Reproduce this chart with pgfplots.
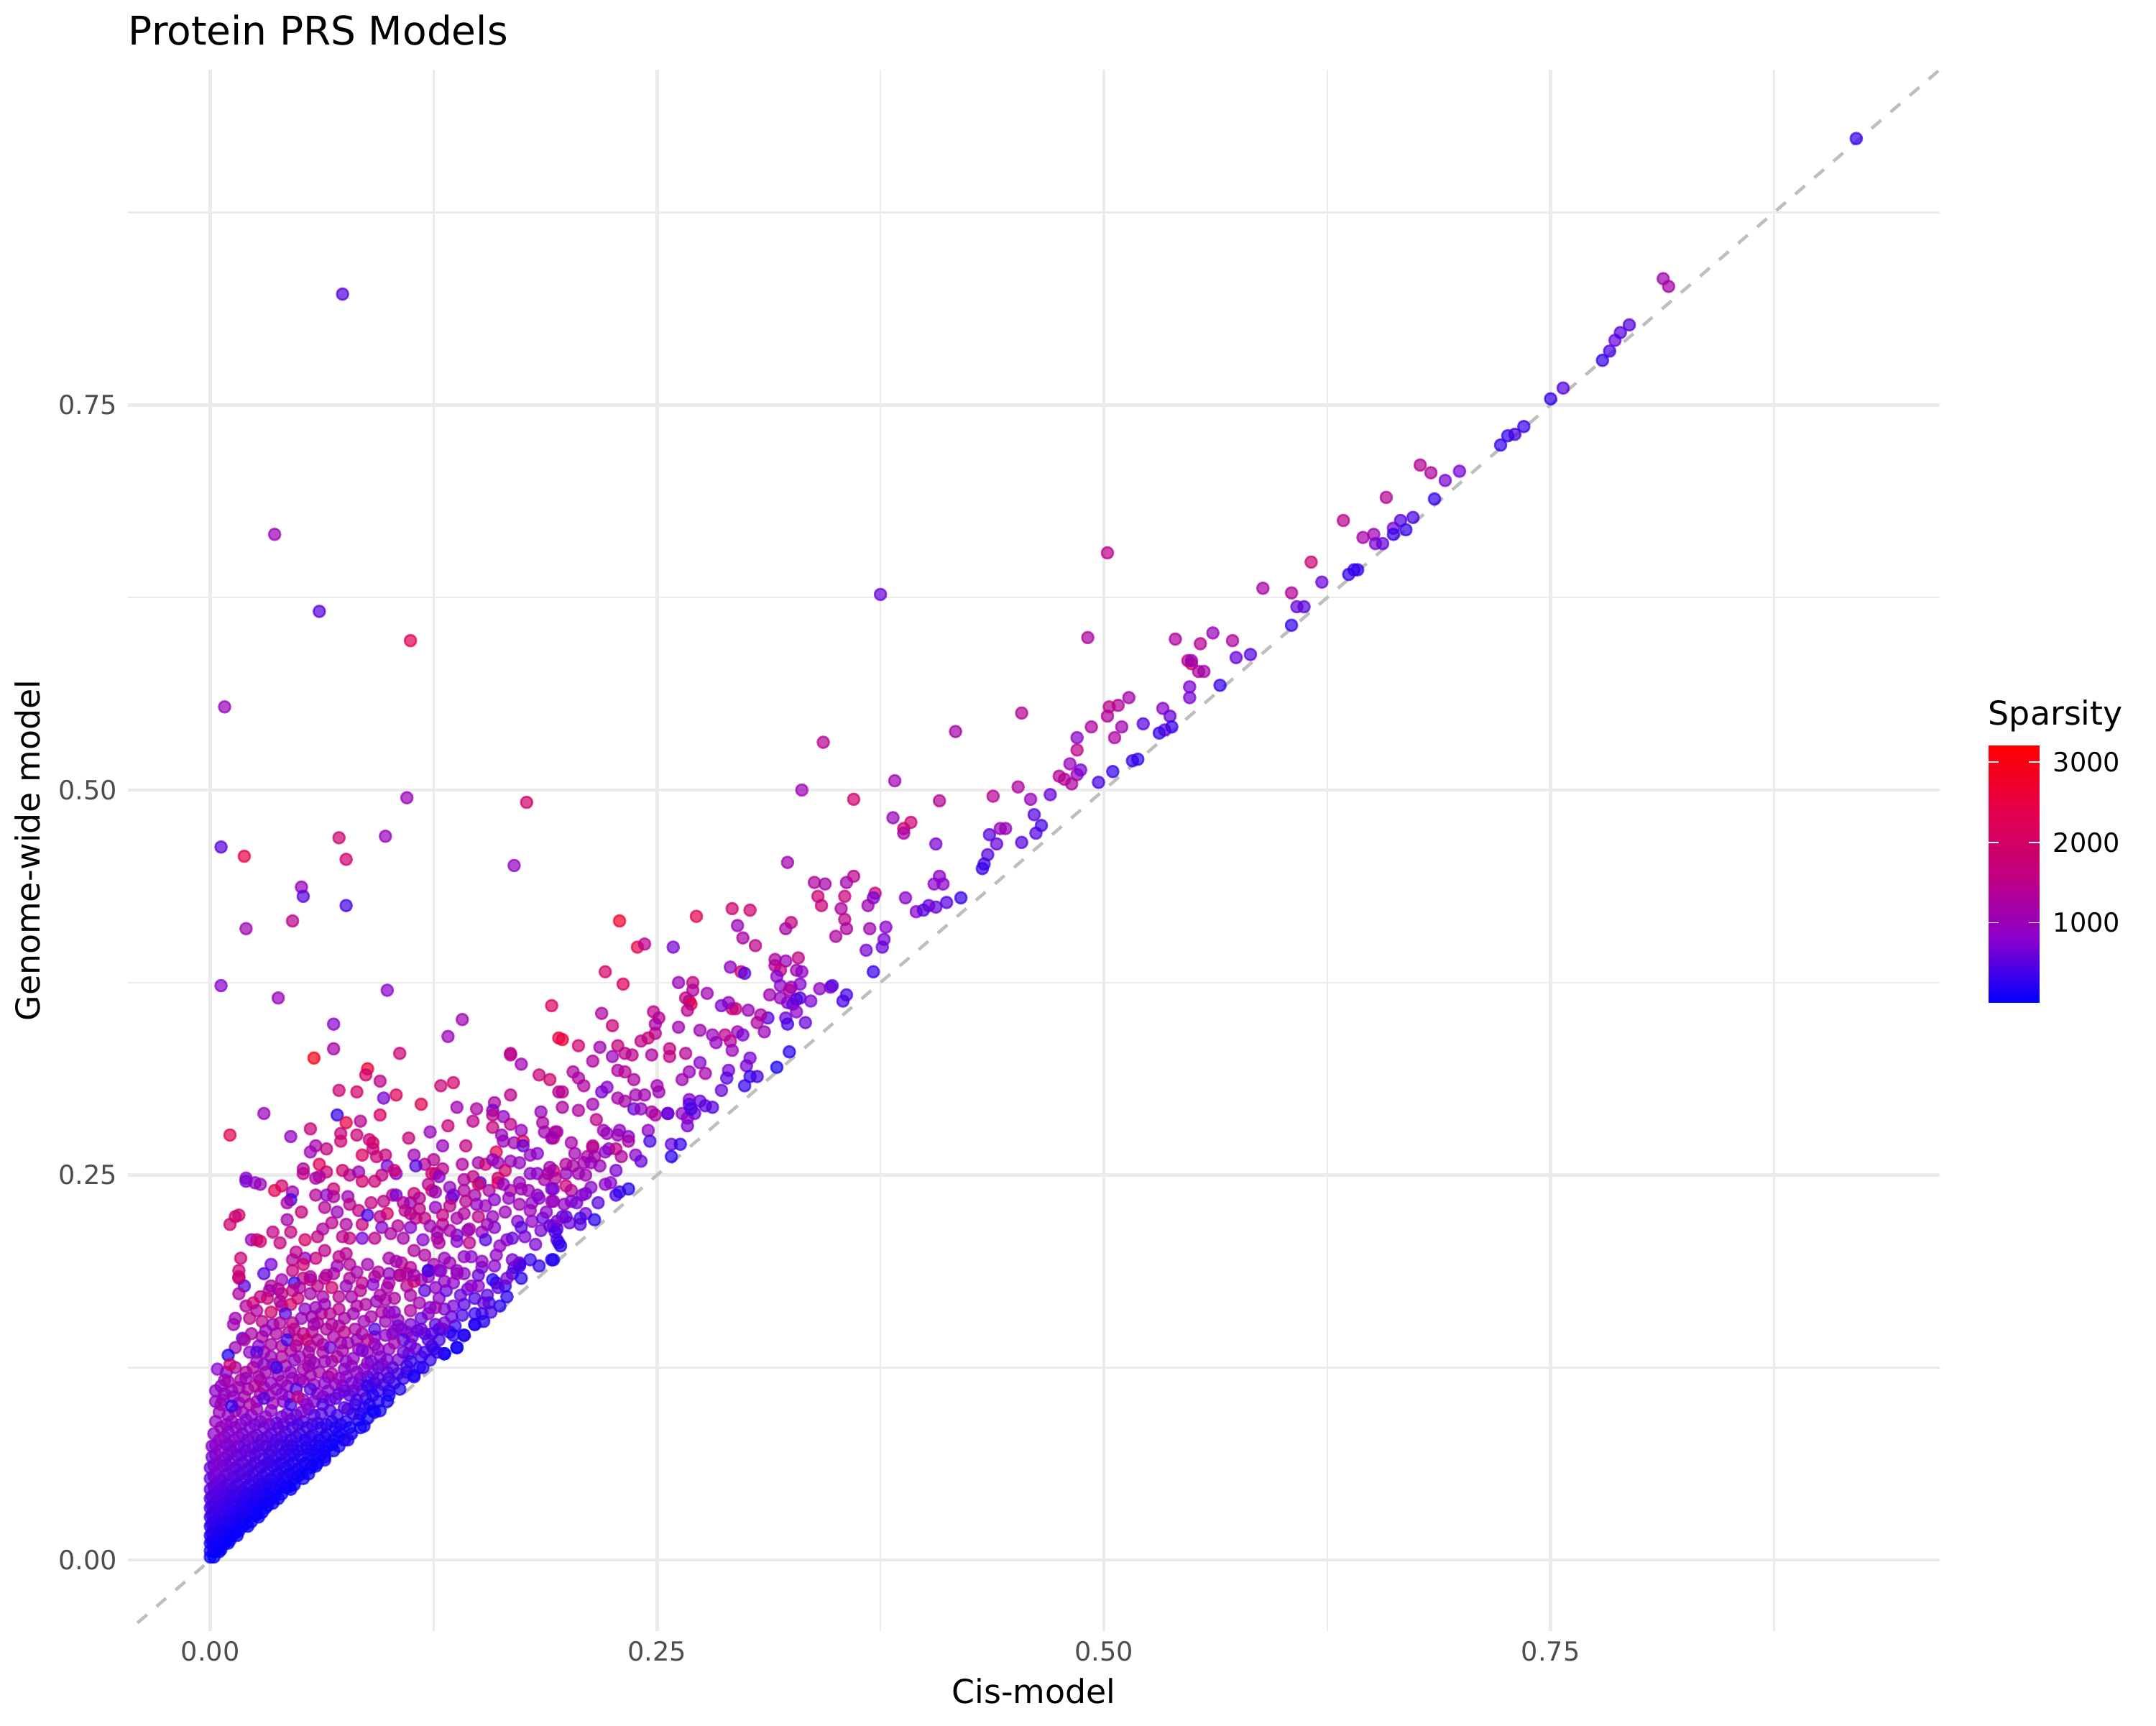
\documentclass[border=0pt]{standalone}
\usepackage{pgfplots}
\usepackage{fontspec}
\setmainfont{DejaVu Sans}
\pgfplotsset{compat=1.18}
\definecolor{gridc}{HTML}{EBEBEB}
\definecolor{tickc}{HTML}{4D4D4D}
\begin{document}
\begin{tikzpicture}
\path[use as bounding box] (0,0) rectangle (720pt,576pt);
\begin{axis}[
  at={(42.72pt,31.44pt)},anchor=south west,
  scale only axis,width=605.04pt,height=521.28pt,
  xmin=-0.0461,xmax=0.9677,ymin=-0.0461,ymax=0.9677,
  xtick={0,0.25,0.5,0.75},xticklabels={0.00,0.25,0.50,0.75},
  ytick={0,0.25,0.5,0.75},yticklabels={0.00,0.25,0.50,0.75},
  minor xtick={0.125,0.375,0.625,0.875},minor ytick={0.125,0.375,0.625,0.875},
  grid=both,
  major grid style={draw=gridc,line width=1.07pt},
  minor grid style={draw=gridc,line width=0.53pt},
  axis line style={draw=none},
  major tick length=0pt,minor tick length=0pt,
  tick style={draw=none},
  xticklabel style={font=\fontsize{8.8}{10}\selectfont,text=tickc},
  yticklabel style={font=\fontsize{8.8}{10}\selectfont,text=tickc},
  title={Protein PRS Models},
  title style={at={(axis description cs:0,1)},anchor=base west,inner sep=0pt,yshift=2.2pt,font=\fontsize{13.2}{15}\selectfont},
  xlabel={Cis-model},
  xlabel style={at={(axis description cs:0.5,0)},anchor=base,yshift=-24pt,font=\fontsize{11}{13}\selectfont},
  ylabel={Genome-wide model},
  ylabel style={at={(axis description cs:0,0.5)},anchor=base,yshift=29.3pt,font=\fontsize{11}{13}\selectfont},
  colormap={pr}{rgb255(0)=(0,0,255) rgb255(1)=(139,0,204) rgb255(2)=(194,0,127) rgb255(3)=(230,0,75) rgb255(4)=(255,0,0)},
  point meta min=0,point meta max=3215,
  colorbar,
  colorbar/width=17.28pt,
  colorbar style={
    at={(parent axis.north east)},anchor=north west,
    xshift=7.55pt,yshift=-225.4pt,
    height=86.16pt,
    ytick={1000,2000,3000},yticklabels={1000,2000,3000},
    ytick pos=both,yticklabel pos=right,
    tick align=inside,major tick length=3.5pt,
    tick style={draw=white,line width=0.35pt},
    axis line style={draw=white,line width=0.2pt},
    grid=none,
    yticklabel style={font=\fontsize{8.8}{10}\selectfont,text=black,xshift=1pt},
    title={Sparsity},
    title style={at={(0,1)},anchor=base west,inner sep=0pt,yshift=0.7pt,font=\fontsize{11}{13}\selectfont},
  },
]
\addplot[scatter,only marks,scatter src=explicit,mark=*,mark size=1.92pt,line width=0.64pt,
  mark options={opacity=0.7},
  scatter/use mapped color={draw=mapped color,fill=mapped color}]
  table[x index=0,y index=1,meta index=2,header=false] {
0.009 0.088 950
0.017 0.088 850
0.025 0.088 800
0.033 0.088 700
0.041 0.088 650
0.049 0.088 550
0.057 0.088 450
0.065 0.088 300
0.073 0.088 220
0.008 0.080 900
0.016 0.080 800
0.024 0.080 700
0.032 0.080 650
0.040 0.080 550
0.048 0.080 450
0.056 0.080 350
0.064 0.080 220
0.072 0.080 130
0.003 0.0745 850
0.011 0.0745 800
0.019 0.0745 700
0.027 0.0745 600
0.035 0.0745 500
0.043 0.0745 420
0.051 0.0745 320
0.059 0.0745 200
0.066 0.0745 120
0.003 0.0685 800
0.010 0.0685 720
0.017 0.0685 650
0.025 0.0685 550
0.033 0.0685 450
0.040 0.0685 360
0.047 0.0685 260
0.055 0.0685 170
0.062 0.0685 110
0.002 0.0615 750
0.009 0.0615 680
0.016 0.0615 600
0.023 0.0615 500
0.030 0.0615 420
0.037 0.0615 330
0.044 0.0615 230
0.051 0.0615 150
0.057 0.0615 80
0.002 0.0545 680
0.008 0.0545 600
0.015 0.0545 520
0.022 0.0545 440
0.029 0.0545 350
0.036 0.0545 260
0.043 0.0545 180
0.049 0.0545 100
0.002 0.0475 600
0.008 0.0475 520
0.014 0.0475 450
0.020 0.0475 380
0.027 0.0475 300
0.033 0.0475 210
0.039 0.0475 140
0.044 0.0475 70
0.001 0.0415 530
0.007 0.0415 460
0.013 0.0415 390
0.019 0.0415 320
0.025 0.0415 240
0.031 0.0415 160
0.036 0.0415 90
0.001 0.0355 470
0.007 0.0355 390
0.012 0.0355 330
0.018 0.0355 260
0.023 0.0355 190
0.028 0.0355 120
0.032 0.0355 60
0.001 0.0295 400
0.006 0.0295 320
0.012 0.0295 260
0.017 0.0295 190
0.022 0.0295 120
0.026 0.0295 70
0.001 0.0235 320
0.006 0.0235 250
0.010 0.0235 190
0.015 0.0235 130
0.020 0.0235 70
0.001 0.0175 250
0.005 0.0175 190
0.010 0.0175 130
0.014 0.0175 70
0.001 0.0125 190
0.005 0.0125 130
0.009 0.0125 60
0.002 0.0055 80
0.005 0.0055 40
0.010 0.094 950
0.018 0.096 950
0.023 0.094 850
0.034 0.097 800
0.040 0.093 700
0.048 0.094 600
0.055 0.098 650
0.062 0.095 450
0.071 0.094 350
0.077 0.098 350
0.084 0.095 180
0.089 0.101 200
0.006 0.101 1000
0.016 0.102 1000
0.026 0.103 1000
0.033 0.107 1000
0.041 0.103 800
0.052 0.104 800
0.058 0.103 700
0.063 0.106 650
0.070 0.105 500
0.075 0.110 600
0.081 0.101 300
0.087 0.105 250
0.012 0.110 1000
0.021 0.111 1150
0.030 0.112 1100
0.043 0.113 900
0.050 0.117 1100
0.058 0.114 900
0.066 0.110 750
0.074 0.113 700
0.083 0.114 600
0.090 0.112 350
0.006 0.113 950
0.017 0.117 1200
0.028 0.117 1200
0.038 0.120 1100
0.046 0.118 1000
0.056 0.120 1100
0.066 0.119 1000
0.076 0.119 800
0.084 0.118 650
0.091 0.121 550
0.099 0.122 500
0.103 0.115 300
0.105 0.121 450
0.110 0.122 250
0.097 0.114 350
0.055 0.126 1200
0.068 0.129 1100
0.079 0.126 1000
0.088 0.128 900
0.096 0.127 700
0.105 0.130 700
0.111 0.134 500
0.100 0.137 900
0.094 0.137 900
0.083 0.137 1000
0.073 0.141 1200
0.063 0.140 1200
0.056 0.139 1300
0.040 0.139 1300
0.029 0.145 1300
0.037 0.147 1300
0.047 0.150 1400
0.057 0.148 1400
0.065 0.150 1300
0.072 0.152 1300
0.085 0.147 1100
0.092 0.145 900
0.102 0.147 900
0.107 0.150 800
0.113 0.145 600
0.120 0.147 400
0.124 0.139 300
0.128 0.150 400
0.134 0.148 300
0.137 0.152 300
0.003 0.090 900
0.012 0.090 850
0.020 0.091 750
0.028 0.090 650
0.037 0.089 600
0.045 0.091 500
0.052 0.090 450
0.060 0.089 350
0.068 0.090 250
0.076 0.090 200
0.083 0.091 120
0.088 0.092 100
0.002 0.082 800
0.010 0.083 700
0.018 0.082 650
0.026 0.081 600
0.034 0.082 500
0.042 0.083 420
0.050 0.082 350
0.057 0.081 280
0.065 0.082 220
0.072 0.083 130
0.079 0.082 100
0.001 0.074 750
0.009 0.075 600
0.016 0.074 550
0.024 0.073 500
0.031 0.074 420
0.039 0.075 350
0.046 0.074 280
0.054 0.073 200
0.061 0.074 130
0.068 0.075 100
0.072 0.074 100
0.001 0.067 650
0.008 0.066 550
0.015 0.068 500
0.022 0.067 430
0.030 0.066 350
0.037 0.067 280
0.044 0.068 220
0.051 0.067 160
0.058 0.066 100
0.064 0.067 100
0.000 0.060 600
0.007 0.061 500
0.014 0.060 450
0.021 0.059 380
0.028 0.060 300
0.035 0.061 240
0.042 0.060 180
0.049 0.059 120
0.056 0.060 100
0.059 0.061 80
0.000 0.053 550
0.006 0.052 430
0.013 0.054 380
0.020 0.053 320
0.027 0.052 250
0.034 0.053 190
0.041 0.054 130
0.047 0.053 90
0.052 0.053 70
0.000 0.046 480
0.006 0.047 380
0.012 0.046 330
0.018 0.045 270
0.025 0.046 210
0.031 0.047 150
0.037 0.046 100
0.042 0.047 80
0.045 0.046 60
0.000 0.040 420
0.005 0.041 330
0.011 0.040 280
0.017 0.039 220
0.023 0.040 160
0.029 0.041 110
0.034 0.040 70
0.038 0.040 60
0.000 0.034 370
0.005 0.035 280
0.010 0.034 230
0.016 0.033 170
0.021 0.034 120
0.026 0.035 80
0.031 0.034 50
0.000 0.028 300
0.005 0.029 230
0.010 0.028 180
0.015 0.027 130
0.020 0.028 80
0.025 0.029 50
0.027 0.028 40
0.000 0.022 250
0.004 0.023 170
0.009 0.022 130
0.013 0.021 90
0.018 0.022 50
0.021 0.022 40
0.000 0.016 180
0.004 0.017 120
0.008 0.016 80
0.012 0.016 40
0.015 0.016 30
0.000 0.011 120
0.004 0.011 70
0.008 0.011 30
0.010 0.011 20
0.000 0.006 80
0.003 0.006 40
0.006 0.007 10
0.000 0.002 30
0.002 0.002 10
0.006 0.086 950
0.014 0.086 800
0.022 0.086 700
0.030 0.086 650
0.038 0.086 550
0.046 0.086 450
0.054 0.086 350
0.062 0.086 250
0.070 0.086 180
0.078 0.086 120
0.084 0.086 80
0.005 0.078 900
0.013 0.078 800
0.021 0.078 650
0.029 0.078 550
0.037 0.078 450
0.045 0.078 350
0.053 0.078 250
0.061 0.078 180
0.069 0.078 120
0.075 0.078 80
0.005 0.071 800
0.012 0.071 700
0.020 0.071 600
0.027 0.071 500
0.034 0.071 420
0.042 0.071 330
0.049 0.071 230
0.057 0.071 150
0.064 0.071 100
0.069 0.071 70
0.004 0.063 750
0.011 0.063 650
0.018 0.063 550
0.025 0.063 450
0.032 0.063 370
0.039 0.063 280
0.046 0.063 200
0.053 0.063 130
0.060 0.063 70
0.003 0.056 700
0.010 0.056 600
0.017 0.056 500
0.024 0.056 420
0.031 0.056 320
0.038 0.056 240
0.045 0.056 160
0.051 0.056 100
0.055 0.056 60
0.003 0.049 600
0.009 0.049 500
0.015 0.049 420
0.022 0.049 340
0.028 0.049 270
0.034 0.049 190
0.040 0.049 130
0.047 0.049 60
0.003 0.043 520
0.008 0.043 430
0.014 0.043 360
0.020 0.043 290
0.026 0.043 220
0.032 0.043 150
0.040 0.043 70
0.002 0.037 450
0.008 0.037 370
0.013 0.037 300
0.019 0.037 240
0.024 0.037 170
0.030 0.037 110
0.035 0.037 50
0.002 0.031 380
0.007 0.031 310
0.013 0.031 240
0.018 0.031 180
0.024 0.031 120
0.029 0.031 50
0.002 0.025 300
0.007 0.025 230
0.012 0.025 170
0.017 0.025 120
0.023 0.025 40
0.002 0.019 230
0.006 0.019 170
0.011 0.019 120
0.016 0.019 60
0.002 0.013 170
0.006 0.013 110
0.011 0.013 40
0.002 0.008 100
0.005 0.008 60
0.014 0.097 1000
0.019 0.106 1100
0.026 0.098 900
0.031 0.093 800
0.043 0.095 700
0.051 0.096 700
0.058 0.094 500
0.067 0.097 400
0.080 0.095 300
0.086 0.099 200
0.016 0.112 1100
0.028 0.108 1200
0.037 0.111 1000
0.044 0.106 900
0.052 0.116 1000
0.060 0.108 800
0.067 0.104 600
0.070 0.114 900
0.078 0.107 500
0.085 0.110 500
0.013 0.106 900
0.024 0.125 1300
0.035 0.127 1200
0.042 0.126 1100
0.052 0.124 1100
0.061 0.122 1100
0.072 0.118 900
0.080 0.110 600
0.088 0.119 500
0.092 0.115 400
0.014 0.125 1200
0.009 0.122 900
0.003 0.110 800
0.003 0.103 900
0.030 0.135 1200
0.045 0.136 1300
0.052 0.147 1500
0.063 0.135 1300
0.069 0.145 1200
0.081 0.150 1200
0.088 0.135 1000
0.092 0.140 800
0.095 0.132 800
0.044 0.148 1300
0.029 0.155 1500
0.040 0.165 1600
0.049 0.170 1700
0.062 0.160 1300
0.072 0.163 1400
0.082 0.165 1300
0.090 0.158 1200
0.096 0.161 1300
0.095 0.172 1300
0.105 0.156 1000
0.110 0.148 800
0.118 0.150 700
0.124 0.147 500
0.112 0.140 700
0.118 0.132 300
0.125 0.137 300
0.130 0.150 500
0.135 0.158 600
0.122 0.160 900
0.128 0.170 800
0.136 0.165 700
0.144 0.176 700
0.148 0.170 400
0.152 0.160 300
0.155 0.172 500
0.160 0.180 500
0.165 0.178 300
0.170 0.190 500
0.110 0.178 1400
0.118 0.182 1000
0.125 0.192 1200
0.134 0.193 1100
0.142 0.186 800
0.152 0.190 700
0.160 0.198 900
0.107 0.193 1500
0.112 0.190 1400
0.100 0.180 1300
0.092 0.184 1400
0.085 0.180 1500
0.078 0.183 1400
0.069 0.186 1300
0.060 0.178 1500
0.052 0.183 1700
0.040 0.173 1500
0.028 0.171 1500
0.105 0.217 1400
0.115 0.222 1500
0.130 0.218 1400
0.142 0.225 1300
0.155 0.218 1100
0.165 0.226 1000
0.172 0.220 800
0.180 0.220 900
0.186 0.222 600
0.148 0.237 1200
0.156 0.240 1300
0.168 0.240 1300
0.178 0.240 1000
0.180 0.232 900
0.085 0.218 1700
0.068 0.219 1500
0.060 0.210 1600
0.045 0.213 1600
0.120 0.222 1600
0.135 0.235 1100
0.064 0.065 100
0.077 0.078 200
0.086 0.087 100
0.100 0.107 100
0.114 0.120 200
0.119 0.125 150
0.131 0.134 100
0.138 0.138 150
0.142 0.146 100
0.148 0.153 100
0.094 0.125 600
0.102 0.125 500
0.110 0.126 400
0.117 0.125 250
0.094 0.118 500
0.100 0.118 400
0.108 0.118 300
0.114 0.119 150
0.094 0.110 400
0.100 0.110 250
0.106 0.111 150
0.094 0.103 200
0.099 0.103 120
0.092 0.096 100
0.095 0.097 100
0.016 0.183 1800
0.019 0.178 500
0.016 0.173 1300
0.040 0.182 1100
0.047 0.180 300
0.046 0.175 1600
0.034 0.178 1400
0.038 0.176 1400
0.033 0.175 1100
0.032 0.170 1700
0.039 0.168 1300
0.045 0.166 2000
0.056 0.182 1700
0.050 0.177 1300
0.056 0.173 1200
0.063 0.171 1200
0.064 0.183 1500
0.068 0.177 1900
0.076 0.178 1000
0.072 0.171 1400
0.079 0.171 1200
0.084 0.175 1400
0.091 0.179 800
0.087 0.166 1300
0.093 0.168 1000
0.020 0.165 1300
0.024 0.167 1800
0.026 0.162 1300
0.022 0.157 1500
0.014 0.157 1100
0.013 0.153 1100
0.034 0.161 1900
0.042 0.160 500
0.053 0.163 900
0.057 0.158 1100
0.064 0.166 1000
0.059 0.164 1000
0.035 0.153 1000
0.039 0.154 1300
0.046 0.154 1500
0.051 0.157 1000
0.060 0.154 1300
0.058 0.153 1100
0.067 0.160 1400
0.075 0.157 1200
0.068 0.153 1300
0.075 0.148 1500
0.080 0.160 1100
0.086 0.155 1100
0.092 0.150 500
0.031 0.149 1000
0.018 0.144 500
0.023 0.147 1200
0.019 0.143 1300
0.014 0.138 1100
0.022 0.135 900
0.027 0.139 800
0.026 0.135 500
0.010 0.133 150
0.011 0.127 1800
0.034 0.140 1200
0.043 0.143 400
0.049 0.143 1500
0.054 0.143 1700
0.060 0.143 1300
0.048 0.139 1300
0.040 0.132 1300
0.034 0.132 1000
0.026 0.129 1000
0.030 0.127 800
0.037 0.125 300
0.045 0.122 900
0.047 0.130 800
0.055 0.135 1100
0.056 0.130 1200
0.050 0.132 1100
0.058 0.128 1000
0.067 0.138 700
0.064 0.129 1000
0.071 0.132 1300
0.077 0.141 1100
0.074 0.136 1100
0.082 0.143 1000
0.088 0.143 1300
0.085 0.136 700
0.080 0.131 900
0.076 0.129 900
0.090 0.129 700
0.086 0.124 800
0.004 0.124 800
0.008 0.117 1000
0.010 0.116 1100
0.020 0.122 1300
0.027 0.119 1100
0.020 0.118 1000
0.025 0.113 1300
0.008 0.108 900
0.007 0.104 1000
0.012 0.100 300
0.005 0.096 1000
0.022 0.101 1200
0.031 0.122 1100
0.034 0.115 900
0.040 0.116 1000
0.040 0.108 800
0.035 0.102 1000
0.030 0.105 500
0.045 0.101 400
0.048 0.111 500
0.056 0.111 500
0.049 0.106 1500
0.054 0.101 800
0.063 0.101 500
0.068 0.121 1200
0.075 0.124 800
0.064 0.115 800
0.072 0.108 600
0.082 0.122 800
0.079 0.115 700
0.082 0.104 400
0.088 0.113 300
0.091 0.107 200
0.091 0.097 100
0.075 0.099 500
0.127 0.209 1200
0.145 0.215 1400
0.145 0.206 1500
0.138 0.211 700
0.173 0.193 700
0.173 0.191 400
0.169 0.186 400
0.174 0.183 250
0.166 0.183 700
0.158 0.182 200
0.161 0.177 500
0.150 0.178 900
0.146 0.178 800
0.150 0.185 600
0.166 0.171 200
0.162 0.165 200
0.156 0.167 400
0.153 0.167 600
0.157 0.161 400
0.148 0.160 300
0.141 0.159 400
0.148 0.153 200
0.153 0.155 200
0.142 0.146 200
0.136 0.146 200
0.138 0.138 100
0.131 0.134 100
0.140 0.172 600
0.142 0.166 500
0.131 0.163 700
0.126 0.164 1200
0.123 0.164 800
0.112 0.162 1300
0.103 0.161 800
0.100 0.161 900
0.103 0.170 1300
0.098 0.169 1200
0.117 0.167 1100
0.112 0.172 1200
0.120 0.175 500
0.126 0.177 900
0.132 0.175 600
0.136 0.180 800
0.131 0.181 900
0.114 0.181 1800
0.122 0.188 500
0.122 0.184 900
0.129 0.188 800
0.138 0.186 1100
0.106 0.185 1700
0.110 0.186 1400
0.100 0.186 900
0.099 0.177 1200
0.112 0.153 700
0.118 0.157 600
0.126 0.153 500
0.131 0.154 700
0.105 0.152 700
0.098 0.155 1000
0.098 0.146 800
0.103 0.149 800
0.108 0.143 500
0.116 0.149 600
0.122 0.143 500
0.128 0.143 400
0.115 0.137 600
0.103 0.141 1100
0.120 0.135 400
0.127 0.135 300
0.108 0.135 600
0.112 0.129 300
0.123 0.130 300
0.099 0.130 700
0.220 0.279 1100
0.222 0.277 1000
0.216 0.286 1500
0.229 0.279 900
0.228 0.276 1000
0.234 0.275 800
0.234 0.272 1200
0.245 0.279 900
0.246 0.272 400
0.193 0.278 1600
0.192 0.274 1900
0.202 0.271 1200
0.214 0.269 1400
0.214 0.268 1500
0.204 0.264 1100
0.211 0.262 1300
0.215 0.262 1200
0.221 0.265 900
0.223 0.267 800
0.227 0.267 1500
0.230 0.262 1300
0.238 0.263 800
0.241 0.259 600
0.258 0.270 600
0.263 0.270 300
0.258 0.262 200
0.267 0.282 700
0.249 0.289 1300
0.247 0.291 1200
0.256 0.290 700
0.264 0.290 900
0.271 0.290 600
0.267 0.287 800
0.227 0.253 700
0.199 0.257 1400
0.203 0.256 1300
0.209 0.258 1100
0.213 0.258 1000
0.218 0.256 1000
0.206 0.251 1100
0.210 0.250 1100
0.199 0.251 1000
0.192 0.253 1700
0.193 0.248 1400
0.199 0.243 1700
0.202 0.240 1400
0.192 0.241 900
0.192 0.233 1000
0.213 0.242 800
0.210 0.238 700
0.208 0.237 800
0.221 0.244 900
0.224 0.245 800
0.227 0.237 400
0.229 0.239 300
0.234 0.241 200
0.217 0.232 500
0.198 0.231 900
0.202 0.233 800
0.205 0.232 700
0.210 0.225 700
0.197 0.223 600
0.199 0.223 600
0.194 0.220 700
0.207 0.222 400
0.201 0.219 600
0.207 0.218 500
0.215 0.221 200
0.194 0.215 500
0.192 0.217 800
0.194 0.208 500
0.196 0.204 200
0.192 0.195 150
0.331 0.500 1100
0.360 0.494 1900
0.383 0.506 1100
0.382 0.482 1000
0.392 0.479 1800
0.388 0.475 1900
0.388 0.472 1200
0.323 0.453 1100
0.338 0.440 1300
0.344 0.439 1200
0.356 0.440 1100
0.360 0.444 1500
0.340 0.431 1800
0.342 0.425 1700
0.355 0.431 1700
0.353 0.423 1300
0.355 0.416 1500
0.356 0.410 1300
0.350 0.405 1300
0.372 0.433 1800
0.371 0.430 700
0.368 0.425 1100
0.389 0.430 800
0.395 0.421 800
0.369 0.410 1100
0.378 0.411 800
0.377 0.403 700
0.376 0.398 600
0.367 0.396 700
0.371 0.382 300
0.325 0.414 1600
0.322 0.410 1200
0.292 0.423 1900
0.302 0.422 1900
0.295 0.412 1000
0.298 0.404 1200
0.305 0.399 1500
0.229 0.415 2800
0.272 0.418 2400
0.239 0.398 2500
0.243 0.400 1500
0.259 0.398 700
0.221 0.382 2000
0.231 0.374 2100
0.291 0.385 900
0.297 0.382 1800
0.299 0.381 500
0.316 0.390 1300
0.316 0.386 1300
0.322 0.389 1000
0.329 0.391 1600
0.319 0.383 1600
0.317 0.379 800
0.328 0.383 1100
0.331 0.382 900
0.319 0.373 800
0.325 0.372 1000
0.330 0.374 800
0.313 0.367 1100
0.319 0.365 1000
0.324 0.370 1300
0.323 0.362 800
0.328 0.364 400
0.330 0.365 500
0.326 0.361 600
0.328 0.356 800
0.336 0.363 700
0.341 0.371 900
0.347 0.372 800
0.348 0.373 500
0.356 0.367 400
0.354 0.363 400
0.322 0.352 600
0.323 0.348 400
0.333 0.349 600
0.324 0.330 200
0.317 0.320 100
0.312 0.352 500
0.308 0.354 1300
0.306 0.349 1300
0.310 0.343 1000
0.301 0.357 1000
0.294 0.358 1700
0.292 0.358 1700
0.290 0.362 1000
0.286 0.360 700
0.262 0.375 1000
0.270 0.375 1600
0.270 0.370 1300
0.266 0.365 1600
0.268 0.363 1400
0.269 0.361 2300
0.267 0.357 1500
0.278 0.368 1100
0.219 0.355 1300
0.225 0.347 1800
0.248 0.356 1500
0.251 0.352 1400
0.249 0.348 1200
0.249 0.342 1400
0.245 0.339 1800
0.241 0.337 1500
0.197 0.338 2700
0.206 0.334 1900
0.218 0.333 1100
0.228 0.334 1700
0.225 0.327 1000
0.232 0.329 1500
0.236 0.328 1500
0.247 0.328 1300
0.257 0.332 1600
0.257 0.327 1600
0.266 0.329 1400
0.214 0.324 1300
0.262 0.346 1100
0.274 0.344 1100
0.281 0.341 1000
0.288 0.341 1500
0.291 0.337 1400
0.283 0.336 900
0.295 0.343 1100
0.298 0.341 700
0.292 0.331 1000
0.274 0.323 800
0.302 0.326 700
0.300 0.321 700
0.290 0.318 700
0.302 0.314 300
0.306 0.314 400
0.299 0.308 300
0.289 0.313 500
0.286 0.305 600
0.268 0.317 1000
0.264 0.312 1100
0.277 0.316 1200
0.203 0.317 1300
0.206 0.313 1300
0.209 0.308 1300
0.197 0.304 1500
0.228 0.318 1300
0.232 0.317 1400
0.237 0.312 1300
0.250 0.308 1100
0.251 0.304 1100
0.222 0.307 800
0.219 0.304 700
0.228 0.300 1200
0.232 0.298 1200
0.238 0.302 1100
0.243 0.302 1100
0.214 0.296 1100
0.197 0.294 1300
0.206 0.292 1300
0.237 0.293 600
0.241 0.293 900
0.256 0.290 600
0.268 0.299 800
0.268 0.296 500
0.274 0.298 600
0.277 0.295 500
0.281 0.294 500
0.269 0.293 400
0.061 0.616 500
0.112 0.597 2300
0.008 0.554 1000
0.110 0.495 1000
0.177 0.492 1900
0.006 0.463 500
0.019 0.457 2500
0.072 0.469 1800
0.098 0.470 1000
0.076 0.455 1900
0.170 0.451 900
0.051 0.437 1000
0.052 0.431 500
0.076 0.425 400
0.046 0.415 1500
0.074 0.822 500
0.036 0.666 1000
0.020 0.410 1100
0.006 0.373 800
0.038 0.365 1000
0.099 0.370 800
0.069 0.348 800
0.069 0.332 1200
0.058 0.326 3000
0.106 0.329 1800
0.141 0.351 1100
0.133 0.340 1000
0.191 0.360 2100
0.195 0.339 2500
0.088 0.319 2700
0.087 0.315 1900
0.095 0.311 1500
0.072 0.305 1800
0.082 0.304 2000
0.104 0.302 2200
0.097 0.300 700
0.118 0.296 2300
0.129 0.308 1800
0.136 0.310 2000
0.168 0.329 1500
0.168 0.328 1500
0.174 0.322 1100
0.184 0.315 1700
0.190 0.312 1900
0.195 0.304 1400
0.168 0.302 1500
0.138 0.294 1100
0.149 0.293 1300
0.159 0.297 1300
0.158 0.292 700
0.164 0.288 900
0.158 0.289 1500
0.147 0.285 1500
0.133 0.282 1700
0.158 0.281 1700
0.168 0.283 1500
0.185 0.291 1000
0.186 0.284 1300
0.187 0.278 1100
0.194 0.278 1200
0.191 0.274 1000
0.174 0.279 1000
0.163 0.276 1000
0.164 0.272 1000
0.170 0.271 1100
0.175 0.272 2000
0.175 0.269 600
0.160 0.265 2300
0.123 0.278 1000
0.111 0.274 1700
0.130 0.269 1000
0.143 0.269 1600
0.030 0.290 1000
0.071 0.289 300
0.076 0.284 2500
0.084 0.285 1400
0.095 0.289 2100
0.011 0.276 2300
0.045 0.275 900
0.056 0.280 1700
0.073 0.277 1700
0.073 0.272 1900
0.082 0.276 1700
0.089 0.273 1600
0.091 0.271 2000
0.091 0.267 1800
0.059 0.269 1200
0.056 0.265 1100
0.065 0.267 1600
0.085 0.263 2100
0.093 0.262 1700
0.098 0.263 1700
0.061 0.257 2300
0.114 0.263 1100
0.125 0.260 1400
0.120 0.257 1400
0.130 0.254 1500
0.115 0.256 500
0.141 0.257 1300
0.150 0.258 1100
0.154 0.257 1800
0.158 0.260 1000
0.161 0.258 1000
0.168 0.259 1000
0.173 0.258 900
0.179 0.263 1000
0.183 0.264 800
0.190 0.255 1100
0.183 0.251 800
0.189 0.251 1200
0.179 0.251 800
0.052 0.254 1300
0.052 0.251 1500
0.099 0.256 700
0.104 0.251 900
0.103 0.253 1800
0.065 0.252 1800
0.074 0.253 1900
0.078 0.250 1500
0.083 0.252 1000
0.096 0.250 1500
0.020 0.248 800
0.020 0.246 700
0.025 0.245 900
0.028 0.244 1000
0.040 0.243 2000
0.036 0.240 2300
0.046 0.239 1100
0.045 0.234 400
0.043 0.232 1200
0.059 0.248 1200
0.061 0.249 1300
0.085 0.246 1900
0.092 0.246 1800
0.069 0.241 1900
0.059 0.237 1400
0.065 0.237 800
0.069 0.236 1300
0.077 0.236 1100
0.064 0.229 1400
0.071 0.226 1000
0.051 0.226 1700
0.078 0.231 1500
0.083 0.227 1600
0.090 0.232 1600
0.088 0.224 400
0.097 0.233 1500
0.102 0.237 1500
0.104 0.237 700
0.108 0.232 1400
0.112 0.232 1000
0.114 0.238 1700
0.117 0.235 1400
0.109 0.227 1500
0.112 0.225 1400
0.117 0.228 1500
0.099 0.225 2000
0.095 0.223 1500
0.122 0.244 1400
0.124 0.240 1800
0.126 0.239 1000
0.134 0.242 1000
0.136 0.237 600
0.142 0.240 1300
0.124 0.251 1800
0.126 0.251 1900
0.128 0.249 800
0.142 0.247 1300
0.147 0.249 1500
0.151 0.245 500
0.150 0.244 2000
0.161 0.248 1800
0.161 0.245 2100
0.165 0.253 1900
0.164 0.244 900
0.173 0.245 1000
0.174 0.241 1100
0.187 0.247 1200
0.191 0.241 700
0.183 0.237 900
0.184 0.235 800
0.191 0.233 1000
0.188 0.226 800
0.179 0.227 1000
0.173 0.231 1100
0.167 0.235 900
0.159 0.234 800
0.154 0.230 1000
0.149 0.231 900
0.143 0.233 1400
0.134 0.230 1500
0.126 0.229 900
0.130 0.224 1600
0.138 0.222 1200
0.150 0.223 1500
0.158 0.223 1000
0.159 0.216 800
0.016 0.224 2000
0.014 0.223 1800
0.011 0.218 1900
0.043 0.221 1200
0.035 0.213 1600
0.023 0.208 900
0.026 0.208 1700
0.028 0.207 1900
0.039 0.206 1700
0.053 0.208 2000
0.063 0.215 1300
0.076 0.218 1300
0.074 0.210 1500
0.078 0.209 1600
0.085 0.209 700
0.096 0.216 800
0.092 0.209 1500
0.101 0.212 1300
0.108 0.209 1200
0.112 0.216 800
0.123 0.217 1100
0.127 0.213 1100
0.134 0.214 1200
0.119 0.208 800
0.128 0.206 1300
0.144 0.214 1000
0.152 0.213 1000
0.154 0.208 500
0.138 0.207 800
0.162 0.204 900
0.166 0.208 800
0.174 0.216 500
0.169 0.209 600
0.176 0.210 700
0.182 0.205 700
0.185 0.214 700
0.190 0.217 600
0.195 0.206 300
0.193 0.213 400
0.191 0.195 200
0.184 0.191 300
0.179 0.195 300
0.173 0.192 400
0.169 0.195 700
0.159 0.191 800
0.152 0.194 900
0.146 0.197 800
0.142 0.197 900
0.131 0.196 1000
0.122 0.188 400
0.128 0.188 800
0.138 0.188 900
0.120 0.198 1300
0.114 0.201 1300
0.104 0.194 1100
0.100 0.196 1200
0.088 0.192 1100
0.078 0.192 1400
0.071 0.191 1000
0.076 0.199 1400
0.072 0.197 1500
0.064 0.201 1500
0.059 0.196 1700
0.053 0.196 900
0.052 0.192 1900
0.048 0.200 1500
0.046 0.195 1400
0.046 0.188 1600
0.034 0.192 700
0.017 0.196 1800
0.016 0.188 1700
0.016 0.184 1800
0.030 0.186 500
0.056 0.184 1200
0.065 0.185 1300
0.082 0.187 1200
0.094 0.187 1300
0.106 0.185 1300
0.114 0.185 1100
0.921 0.923 300
0.813 0.832 1100
0.816 0.827 1200
0.779 0.779 300
0.783 0.785 400
0.786 0.792 600
0.789 0.797 500
0.794 0.802 500
0.750 0.754 300
0.757 0.761 500
0.722 0.724 300
0.726 0.730 300
0.730 0.731 400
0.735 0.736 300
0.677 0.711 1400
0.683 0.706 1300
0.699 0.707 700
0.691 0.701 700
0.685 0.689 300
0.658 0.690 1400
0.634 0.675 1500
0.645 0.664 1200
0.651 0.666 1100
0.652 0.660 700
0.656 0.660 600
0.662 0.670 700
0.666 0.675 500
0.673 0.677 400
0.669 0.669 300
0.662 0.666 300
0.589 0.631 1200
0.605 0.628 1400
0.616 0.648 1800
0.640 0.643 300
0.637 0.640 300
0.642 0.643 300
0.622 0.635 600
0.612 0.619 500
0.608 0.619 600
0.605 0.607 300
0.502 0.654 1500
0.375 0.627 600
0.491 0.599 1300
0.540 0.598 1300
0.561 0.602 1000
0.554 0.595 1400
0.572 0.597 1300
0.574 0.586 600
0.582 0.588 500
0.547 0.584 1500
0.549 0.582 1900
0.549 0.584 1000
0.553 0.577 1300
0.556 0.577 1200
0.565 0.568 300
0.548 0.567 700
0.548 0.560 700
0.514 0.560 1200
0.503 0.554 1500
0.508 0.555 1400
0.533 0.553 800
0.537 0.548 600
0.534 0.539 600
0.538 0.541 300
0.531 0.537 300
0.522 0.543 500
0.502 0.548 1300
0.510 0.541 1100
0.506 0.534 1300
0.454 0.550 1400
0.417 0.538 1200
0.343 0.531 1400
0.485 0.534 800
0.485 0.526 1500
0.493 0.541 1300
0.475 0.509 1400
0.478 0.507 1400
0.485 0.510 1000
0.481 0.517 1000
0.487 0.513 700
0.482 0.504 1300
0.470 0.497 600
0.452 0.502 1300
0.459 0.494 1000
0.438 0.496 1400
0.497 0.505 400
0.505 0.512 300
0.516 0.519 300
0.519 0.520 300
0.408 0.493 1400
0.436 0.471 500
0.442 0.475 1000
0.445 0.475 1000
0.435 0.458 500
0.433 0.452 400
0.432 0.449 300
0.440 0.465 600
0.454 0.466 500
0.461 0.484 500
0.462 0.472 500
0.465 0.477 400
0.406 0.465 700
0.408 0.444 800
0.405 0.439 800
0.410 0.439 800
0.406 0.424 600
0.402 0.425 600
0.399 0.422 500
0.412 0.427 500
0.420 0.430 300
};
\addplot[draw={rgb,255:red,190;green,190;blue,190},line width=1.07pt,dash pattern=on 4.2pt off 4.2pt,dash phase=4.2pt,no marks]
  coordinates {(-0.0461,-0.0461) (0.9677,0.9677)};
\end{axis}
\end{tikzpicture}
\end{document}
